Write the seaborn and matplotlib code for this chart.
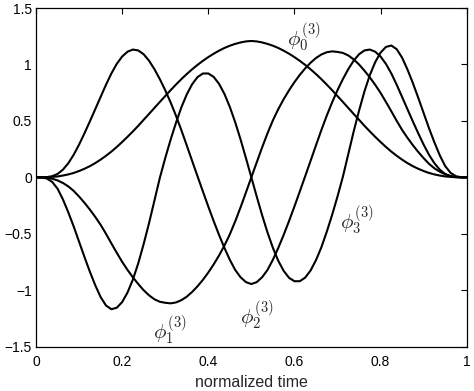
import numpy as np
import pandas as pd
import matplotlib
matplotlib.use("Agg")
import matplotlib.pyplot as plt
import seaborn as sns

# values (normalized time -> basis functions)
t = [0.0, 0.0125, 0.025, 0.0375, 0.05, 0.0625, 0.075, 0.0875, 0.1, 0.1125,
     0.125, 0.1375, 0.15, 0.1625, 0.175, 0.1875, 0.2, 0.2125, 0.225, 0.2375,
     0.25, 0.2625, 0.275, 0.2875, 0.3, 0.3125, 0.325, 0.3375, 0.35, 0.3625,
     0.375, 0.3875, 0.4, 0.4125, 0.425, 0.4375, 0.45, 0.4625, 0.475, 0.4875,
     0.5,
     0.5125, 0.525, 0.5375, 0.55, 0.5625, 0.575, 0.5875, 0.6, 0.6125, 0.625,
     0.6375, 0.65, 0.6625, 0.675, 0.6875, 0.7, 0.7125, 0.725, 0.7375, 0.75,
     0.7625, 0.775, 0.7875, 0.8, 0.8125, 0.825, 0.8375, 0.85, 0.8625, 0.875,
     0.8875, 0.9, 0.9125, 0.925, 0.9375, 0.95, 0.9625, 0.975, 0.9875, 1.0]

phi0 = [0.0, 0.0, 0.001, 0.004, 0.008, 0.016, 0.026, 0.039, 0.056, 0.076,
        0.099, 0.126, 0.157, 0.191, 0.228, 0.269, 0.313, 0.359, 0.407, 0.457,
        0.51, 0.562, 0.615, 0.668, 0.72, 0.772, 0.822, 0.87, 0.915, 0.957,
        0.996, 1.032, 1.065, 1.095, 1.122, 1.146, 1.166, 1.182, 1.195, 1.204,
        1.208,
        1.204, 1.195, 1.182, 1.166, 1.146, 1.122, 1.095, 1.065, 1.032, 0.996,
        0.957, 0.915, 0.87, 0.822, 0.772, 0.72, 0.668, 0.615, 0.562, 0.51,
        0.457, 0.407, 0.359, 0.313, 0.269, 0.228, 0.191, 0.157, 0.126, 0.099,
        0.076, 0.056, 0.039, 0.026, 0.016, 0.008, 0.004, 0.001, 0.0, 0.0]

phi1 = [0.0, 0.0, -0.004, -0.012, -0.027, -0.05, -0.08, -0.12, -0.17, -0.225,
        -0.285, -0.35, -0.42, -0.50, -0.585, -0.668, -0.748, -0.82, -0.886, -0.945,
        -1.0, -1.045, -1.08, -1.102, -1.111, -1.116, -1.108, -1.088, -1.057, -1.015,
        -0.965, -0.908, -0.843, -0.771, -0.692, -0.604, -0.505, -0.39, -0.265, -0.133,
        0.0,
        0.133, 0.265, 0.39, 0.505, 0.604, 0.692, 0.771, 0.843, 0.908, 0.965,
        1.015, 1.057, 1.088, 1.108, 1.116, 1.111, 1.102, 1.08, 1.045, 1.0,
        0.945, 0.886, 0.82, 0.748, 0.668, 0.585, 0.50, 0.42, 0.35, 0.285,
        0.225, 0.17, 0.12, 0.08, 0.05, 0.027, 0.012, 0.004, 0.0, 0.0]

phi2 = [0.0, 0.0, 0.002, 0.01, 0.03, 0.068, 0.125, 0.2, 0.29, 0.39,
        0.495, 0.603, 0.712, 0.82, 0.92, 1.005, 1.07, 1.113, 1.132, 1.124,
        1.09, 1.033, 0.958, 0.87, 0.772, 0.664, 0.546, 0.418, 0.283, 0.146,
        0.01, -0.125, -0.258, -0.387, -0.51, -0.625, -0.73, -0.82, -0.885, -0.928,
        -0.945,
        -0.928, -0.885, -0.82, -0.73, -0.625, -0.51, -0.387, -0.258, -0.125, 0.01,
        0.146, 0.283, 0.418, 0.546, 0.664, 0.772, 0.87, 0.958, 1.033, 1.09,
        1.124, 1.132, 1.113, 1.07, 1.005, 0.92, 0.82, 0.712, 0.603, 0.495,
        0.39, 0.29, 0.2, 0.125, 0.068, 0.03, 0.01, 0.002, 0.0, 0.0]

phi3 = [0.0, -0.001, -0.01, -0.04, -0.10, -0.195, -0.31, -0.435, -0.57, -0.705,
        -0.835, -0.955, -1.06, -1.135, -1.168, -1.155, -1.105, -1.02, -0.905, -0.76,
        -0.59, -0.405, -0.205, -0.005, 0.17, 0.333, 0.483, 0.62, 0.734, 0.825,
        0.888, 0.92, 0.92, 0.89, 0.828, 0.739, 0.624, 0.488, 0.335, 0.17,
        0.0,
        -0.17, -0.335, -0.488, -0.624, -0.739, -0.828, -0.89, -0.92, -0.92, -0.888,
        -0.825, -0.734, -0.62, -0.483, -0.333, -0.17, 0.005, 0.205, 0.405, 0.59,
        0.76, 0.905, 1.02, 1.105, 1.155, 1.168, 1.135, 1.06, 0.955, 0.835,
        0.705, 0.57, 0.435, 0.31, 0.195, 0.10, 0.04, 0.01, 0.001, 0.0]

curves = {"phi0": phi0, "phi1": phi1, "phi2": phi2, "phi3": phi3}

sns.set_style("white")
plt.rcParams["font.family"] = ["Liberation Sans", "DejaVu Sans"]
plt.rcParams["mathtext.fontset"] = "cm"

fig = plt.figure(figsize=(4.74, 3.91), dpi=100)
ax = fig.add_axes([36 / 474, 1 - 346.7 / 391, 430.7 / 474, 338.7 / 391])

for name, vals in curves.items():
    df = pd.DataFrame({"t": t, "v": vals})
    sns.lineplot(data=df, x="t", y="v", color="black", linewidth=1.5, ax=ax)

# curve labels
ax.text(0.583, 1.163, r"$\phi_0^{(3)}$", fontsize=15)
ax.text(0.272, -1.43, r"$\phi_1^{(3)}$", fontsize=15)
ax.text(0.474, -1.30, r"$\phi_2^{(3)}$", fontsize=15)
ax.text(0.706, -0.458, r"$\phi_3^{(3)}$", fontsize=15)

ax.set_xlim(0, 1)
ax.set_ylim(-1.5, 1.5)
ax.set_xticks([0, 0.2, 0.4, 0.6, 0.8, 1])
ax.set_xticklabels(["0", "0.2", "0.4", "0.6", "0.8", "1"])
ax.set_yticks([-1.5, -1, -0.5, 0, 0.5, 1, 1.5])
ax.set_yticklabels(["\u22121.5", "\u22121", "\u22120.5", "0", "0.5", "1", "1.5"])
ax.tick_params(direction="in", top=True, right=True, length=4, width=0.8,
               labelsize=10, colors="black")
ax.tick_params(axis="x", pad=6)
ax.tick_params(axis="y", pad=3)
for s in ax.spines.values():
    s.set_linewidth(0.9)
    s.set_color("black")

ax.set_xlabel("normalized time", fontsize=11.5, labelpad=4)
ax.set_ylabel("")

fig.savefig("out.png", dpi=100)
